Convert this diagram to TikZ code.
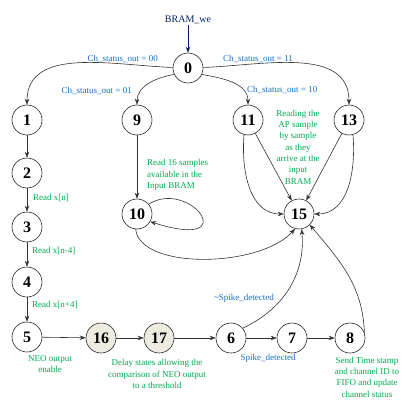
\documentclass[tikz,border=0pt]{standalone}
\usepackage{fontspec}
\setmainfont{Liberation Serif}
\usetikzlibrary{arrows.meta}
\definecolor{lblue}{RGB}{20,110,200}
\definecolor{lgreen}{RGB}{0,170,80}
\definecolor{beige}{RGB}{238,236,225}
\definecolor{navy}{RGB}{0,32,96}
\tikzset{
  state/.style={circle, draw=black!85, line width=0.6pt, minimum size=30pt, inner sep=0pt,
    font=\fontsize{16}{16}\selectfont\bfseries, fill=white},
  hlstate/.style={state, fill=beige},
  edge/.style={-{Stealth[length=6pt,width=4.5pt]}, line width=0.6pt, draw=black!80},
  blab/.style={text=lblue, font=\fontsize{9}{10}\selectfont, inner sep=0pt},
  glab/.style={text=lgreen, font=\fontsize{9}{11.3}\selectfont, align=center, inner sep=0pt}
}
\begin{document}
\begin{tikzpicture}[x=1pt,y=-1pt]
\useasboundingbox (0,0) rectangle (419,406);
% states
\node[state] (n0) at (188,68) {0};
\node[state] (n1) at (27,120) {1};
\node[state] (n9) at (137,120) {9};
\node[state] (n11) at (248,120) {11};
\node[state] (n13) at (349,120) {13};
\node[state] (n2) at (27,173) {2};
\node[state] (n3) at (27,227) {3};
\node[state] (n4) at (27,282) {4};
\node[state] (n5) at (27,337) {5};
\node[state] (n10) at (137,214) {10};
\node[state] (n15) at (299,214) {15};
\node[hlstate] (n16) at (101,338) {16};
\node[hlstate] (n17) at (159,338) {17};
\node[state] (n6) at (231,338) {6};
\node[state] (n7) at (292,338) {7};
\node[state] (n8) at (350,338) {8};
% input
\node[font=\fontsize{10}{10}\selectfont, text=navy, inner sep=1pt] (bw) at (188,20) {BRAM\_we};
\draw[-{Stealth[length=6pt,width=4.5pt]}, line width=0.8pt, navy] (bw) -- (n0);
% transitions from 0
\draw[edge] (n0.178) to[out=178,in=90] (n1.north);
\draw[edge] (n0.2) to[out=2,in=90] (n13.north);
\draw[edge] (n0.205) to[out=190,in=90] (n9.north);
\draw[edge] (n0.-25) to[out=-10,in=90] (n11.north);
\node[blab, anchor=east] (l00) at (158,59) {Ch\_status\_out = 00};
\node[blab, anchor=west] (l11) at (223,59) {Ch\_status\_out = 11};
\node[blab, anchor=east] (l01) at (132,91) {Ch\_status\_out = 01};
\node[blab, anchor=west] (l10) at (247,90) {Ch\_status\_out = 10};
% left chain
\draw[edge] (n1) -- (n2);
\draw[edge] (n2) -- (n3);
\draw[edge] (n3) -- (n4);
\draw[edge] (n4) -- (n5);
\node[glab, anchor=west] (r1) at (33,198) {Read x[n]};
\node[glab, anchor=west] (r2) at (32,251) {Read x[n-4]};
\node[glab, anchor=west] (r3) at (32,305) {Read x[n+4]};
% 9 / 10
\draw[edge] (n9) -- (n10);
\draw[edge] (n10.40) .. controls (190,178) and (245,252) .. (n10.-30);
\draw[edge] (n10.-95) .. controls (140,270) and (260,268) .. (n15.-105);
\node[glab, anchor=west, align=left] (r16) at (147,175) {Read 16 samples\\available in the\\Input BRAM};
% 11 / 13 -> 15
\draw[edge] (n11) -- (n15);
\draw[edge] (n11.-105) to[out=-95,in=180] (n15.west);
\draw[edge] (n13) -- (n15);
\draw[edge] (n13.-75) to[out=-85,in=0] (n15.east);
\node[glab] (rd) at (298,147) {Reading the\\AP sample\\by sample\\as they\\arrive at the\\input\\BRAM};
% bottom chain
\draw[edge] (n5) -- (n16);
\draw[edge] (n16) -- (n17);
\draw[edge] (n17) -- (n6);
\draw[edge] (n6) -- (n7);
\draw[edge] (n7) -- (n8);
\draw[edge] (n6.40) to[out=25,in=-85] (n15.-80);
\draw[edge] (n8.20) to[out=92,in=-50] (n15.-45);
\node[blab] (nsd) at (244,298) {\textasciitilde Spike\_detected};
\node[blab] (sd) at (268,358) {Spike\_detected};
\node[glab] (neo) at (50,364) {NEO output\\enable};
\node[glab] (dly) at (157,374) {Delay states allowing the\\comparison of NEO output\\to a threshold};
\node[glab] (snd) at (367,377) {Send Time stamp\\and channel ID to\\FIFO and update\\channel status};
\end{tikzpicture}
\end{document}
